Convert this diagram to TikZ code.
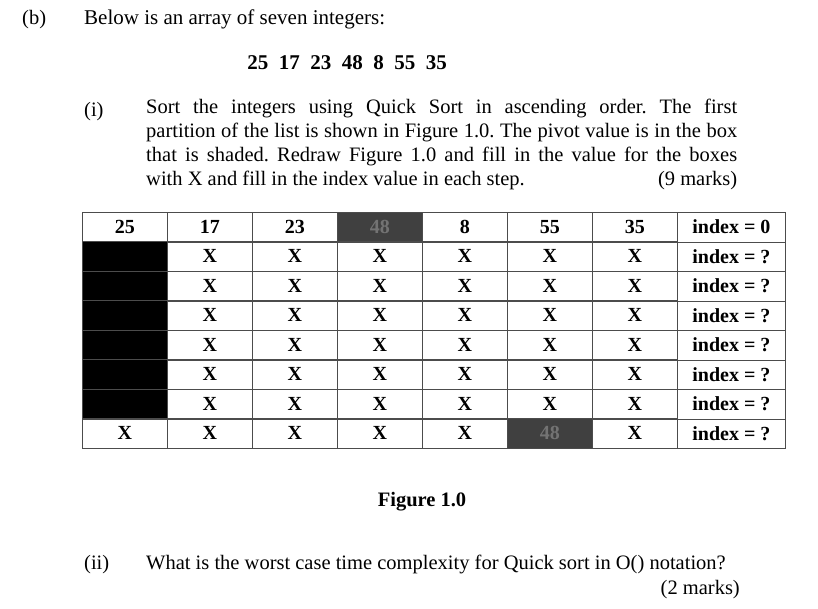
\documentclass[tikz,border=0pt]{standalone}
\usepackage{fontspec}
\setmainfont{Liberation Serif}
\begin{document}
\begin{tikzpicture}[x=1pt,y=-1pt,
  txt/.style={inner sep=0pt,font=\fontsize{20.5}{24}\selectfont},
  cell/.style={draw=black!70,line width=0.8pt,minimum width=85pt,minimum height=29.5pt,inner sep=0pt,anchor=north west,font=\fontsize{20}{22}\selectfont\bfseries},
  dark/.style={cell,fill=black},
  piv/.style={cell,fill=black!75,text=black!55}]
\useasboundingbox (0,0) rectangle (818,608);
\node[txt,anchor=base west] (b) at (22,24) {(b)};
\node[txt,anchor=base west,font=\fontsize{21}{24}\selectfont] (q) at (84,24) {Below is an array of seven integers:};
\node[txt,anchor=base,font=\fontsize{21}{24}\selectfont\bfseries] (arr) at (347,69) {25\ \ 17\ \ 23\ \ 48\ \ 8\ \ 55\ \ 35};
\node[txt,anchor=base west] (i) at (84,116) {(i)};
\node[txt,anchor=north west,text width=591pt,align=justify] (p) at (146,99)
 {\frenchspacing Sort the integers using Quick Sort in ascending order. The first\linebreak partition of the list is shown in Figure 1.0. The pivot value is in the box\linebreak that is shaded. Redraw Figure 1.0 and fill in the value for the boxes\linebreak with X and fill in the index value in each step.\hfill(9 marks)};
% table
\foreach \c/\t [count=\i from 0] in {25,17,23,48,8,55,35}{
  \ifnum\i=3 \node[piv] (c0\i) at (82+85*\i,212) {\t};
  \else \node[cell] (c0\i) at (82+85*\i,212) {\t};\fi}
\node[cell,minimum width=108pt] (c07) at (677,212) {index = 0};
\foreach \r in {1,...,7}{
  \foreach \i in {0,...,6}{
    \pgfmathtruncatemacro\yy{212+29.5*\r}
    \ifnum\r<7 \ifnum\i=0 \node[dark] (c\r\i) at (82,\yy) {};
      \else \node[cell] (c\r\i) at (82+85*\i,\yy) {X};\fi
    \else \ifnum\i=5 \node[piv] (c\r\i) at (82+85*\i,\yy) {48};
      \else \node[cell] (c\r\i) at (82+85*\i,\yy) {X};\fi\fi}
  \node[cell,minimum width=108pt] (c\r7) at (677,212+29.5*\r) {index = ?};}
\node[txt,anchor=base,font=\fontsize{20.5}{24}\selectfont\bfseries] (fig) at (422,506) {Figure 1.0};
\node[txt,anchor=base west] (ii) at (84,569) {(ii)};
\node[txt,anchor=base west] (q2) at (146,569) {What is the worst case time complexity for Quick sort in O() notation?};
\node[txt,anchor=base east] (m2) at (740,594) {(2 marks)};
\end{tikzpicture}
\end{document}
